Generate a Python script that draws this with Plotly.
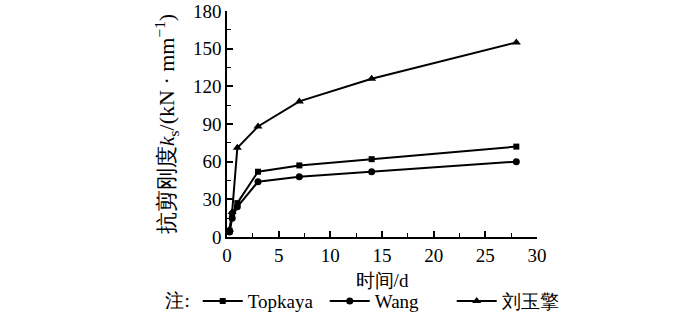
import plotly.graph_objects as go

# Curing time (days) and shear stiffness ks (kN/mm) for three models
days = [0.25, 0.5, 1, 3, 7, 14, 28]
topkaya = [5, 18, 27, 52, 57, 62, 72]
wang = [4, 15, 24, 44, 48, 52, 60]
liu = [6, 20, 71, 88, 108, 126, 155]

series = [
    ("Topkaya", topkaya, "square", 6),
    ("Wang", wang, "circle", 7),
    ("刘玉擎", liu, "triangle-up", 8),
]

fig = go.Figure()
for name, vals, sym, size in series:
    fig.add_trace(go.Scatter(
        x=days, y=vals, name=name, mode="lines+markers",
        line=dict(color="black", width=2),
        marker=dict(symbol=sym, size=size, color="black"),
    ))

serif = "'Liberation Serif', 'Times New Roman', 'DejaVu Serif', serif"
axis_common = dict(
    showline=True, linecolor="black", linewidth=1.5,
    ticks="inside", ticklen=6, tickwidth=1.5, tickcolor="black",
    showgrid=False, zeroline=False, ticklabeloverflow="allow",
    tickfont=dict(family=serif, size=19, color="black"),
)

fig.update_xaxes(
    range=[0, 30.001], tickvals=[0, 5, 10, 15, 20, 25, 30],
    minor=dict(ticks="inside", ticklen=4, tickwidth=1.2, tickcolor="black", dtick=2.5, tick0=0),
    title=dict(text="时间/d", font=dict(family=serif, size=19, color="black"), standoff=9),
    **axis_common,
)
fig.update_yaxes(
    range=[0, 180.001], tickvals=[0, 30, 60, 90, 120, 150, 180],
    minor=dict(ticks="inside", ticklen=4, tickwidth=1.2, tickcolor="black", dtick=15, tick0=0),
    title=dict(text="抗剪刚度<i>k</i><sub>s</sub>/(kN · mm<sup>−1</sup>)",
               font=dict(family=serif, size=22, color="black"), standoff=12),
    **axis_common,
)

fig.update_layout(
    width=700, height=322,
    margin=dict(l=227, r=163, t=11, b=85, autoexpand=False),
    paper_bgcolor="white", plot_bgcolor="white",
    legend=dict(
        orientation="h", x=-0.205, xanchor="left", y=-0.2, yanchor="top",
        title=dict(text="注:", side="left", font=dict(family=serif, size=19, color="black")),
        font=dict(family=serif, size=19, color="black"),
        itemwidth=40, entrywidth=72, traceorder="normal",
    ),
    showlegend=True,
)

fig.write_html("out.html")
